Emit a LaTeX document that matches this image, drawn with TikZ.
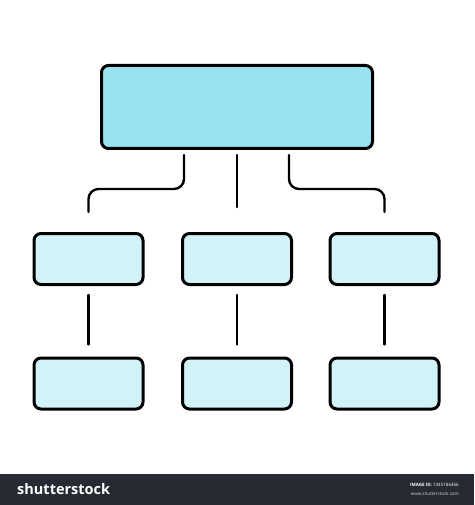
\documentclass[tikz,border=0pt]{standalone}
\usepackage{fontspec}
\setmainfont{Open Sans}
\usetikzlibrary{calc}
\definecolor{topfill}{HTML}{97E3F1}
\definecolor{boxfill}{HTML}{D1F3F8}
\definecolor{barcol}{HTML}{262A33}
\tikzset{
  chartbox/.style={draw=black, line width=3pt, rounded corners=7pt, inner sep=0pt},
  topbox/.style={chartbox, fill=topfill, minimum width=271pt, minimum height=83pt},
  subbox/.style={chartbox, fill=boxfill, minimum width=109pt, minimum height=51pt},
  conn/.style={draw=black, line width=2.4pt, line cap=round},
}
\begin{document}
\begin{tikzpicture}[x=1pt, y=-1pt]
\useasboundingbox (0,0) rectangle (474,505);
\fill[white] (0,0) rectangle (474,474);
\fill[barcol] (0,474) rectangle (474,505);

\node[topbox] (top) at (237,107) {};
\node[subbox] (m1) at (88.5,259) {};
\node[subbox] (m2) at (237,259) {};
\node[subbox] (m3) at (384.5,259) {};
\node[subbox] (b1) at (88.5,383.5) {};
\node[subbox] (b2) at (237,383.5) {};
\node[subbox] (b3) at (384.5,383.5) {};

% connector end points
\coordinate (c1s) at ($(top.south)+(-53,5)$);
\coordinate (c2s) at ($(top.south)+(0,5)$);
\coordinate (c3s) at ($(top.south)+(52,5)$);
\coordinate (c1e) at ($(m1.north)+(0,-20)$);
\coordinate (c2e) at ($(m2.north)+(0,-25)$);
\coordinate (c3e) at ($(m3.north)+(0,-20)$);

\draw[conn, rounded corners=10pt] (c1s) |- ($(c1e)+(0,-23)$) -- (c1e);
\draw[conn] (c2s) -- (c2e);
\draw[conn, rounded corners=10pt] (c3s) |- ($(c3e)+(0,-23)$) -- (c3e);

\draw[conn] ($(m1.south)+(0,9)$) -- ($(b1.north)+(0,-12)$);
\draw[conn] ($(m2.south)+(0,9)$) -- ($(b2.north)+(0,-12)$);
\draw[conn] ($(m3.south)+(0,9)$) -- ($(b3.north)+(0,-12)$);

% bottom bar texts
\node[anchor=west, text=white, font=\fontsize{14.5}{15}\selectfont\bfseries, inner sep=0pt] (logo) at (17,489.5) {shutterstock};
\node[anchor=east, text=white, font=\fontsize{4.5}{5}\selectfont, inner sep=0pt] (imgid) at (459,485) {\textbf{IMAGE ID:} 1345186466};
\node[anchor=east, text=white!80!barcol, font=\fontsize{4.5}{5}\selectfont, inner sep=0pt] (www) at (459,494) {www.shutterstock.com};
\end{tikzpicture}
\end{document}
